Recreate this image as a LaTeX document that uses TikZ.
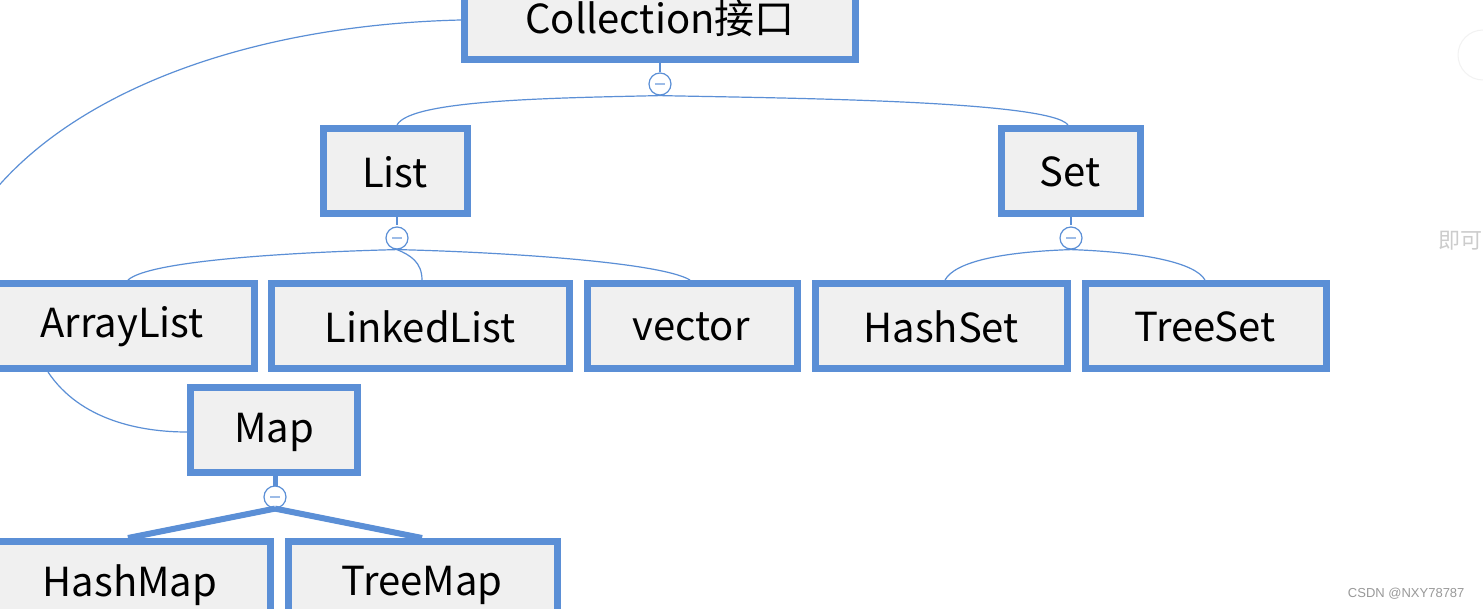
\documentclass[tikz,border=0pt]{standalone}
\usepackage{fontspec}
\setmainfont{Noto Sans CJK SC}
\newfontfamily\wm{Liberation Sans}
\definecolor{bd}{HTML}{5B8FD6}
\definecolor{bx}{HTML}{F0F0F0}
\begin{document}
\begin{tikzpicture}[x=1pt,y=-1pt,
  box/.style={draw=bd,line width=7pt,fill=bx,inner sep=0pt},
  lbl/.style={font=\fontsize{40}{40}\selectfont},
  tog/.style={circle,draw=bd,line width=1.2pt,fill=white,minimum size=22pt,inner sep=0pt},
  conn/.style={draw=bd,line width=1.2pt}]
\useasboundingbox (0,0) rectangle (1483,609);
\fill[white] (0,0) rectangle (1483,609);
\begin{scope}
\clip (0,0) rectangle (1483,609);
% boxes
\draw[box] (464.5,-20) rectangle (855.5,59.5); \node[lbl] (coll) at (660,18) {Collection接口};
\draw[box] (323.5,128.5) rectangle (467.5,213.5); \node[lbl] (list) at (395,172) {List};
\draw[box] (1001.5,128.5) rectangle (1140.5,213.5); \node[lbl] (set) at (1070,172) {Set};
\draw[box] (-10,283.5) rectangle (254.5,368.5); \node[lbl] (al) at (122,327) {ArrayList};
\draw[box] (271.5,283.5) rectangle (569.5,368.5); \node[lbl] (ll) at (420,327) {LinkedList};
\draw[box] (587.5,283.5) rectangle (797.5,368.5); \node[lbl] (vec) at (691,327) {vector};
\draw[box] (815.5,283.5) rectangle (1067.5,368.5); \node[lbl] (hs) at (941,327) {HashSet};
\draw[box] (1085.5,283.5) rectangle (1326.5,368.5); \node[lbl] (ts) at (1205,327) {TreeSet};
\draw[box] (190.5,387.5) rectangle (357.5,472.5); \node[lbl] (map) at (274,432) {Map};
\draw[box] (-10,541.5) rectangle (270.5,640); \node[lbl] (hm) at (130,585) {HashMap};
\draw[box] (288.5,541.5) rectangle (557.5,640); \node[lbl] (tm) at (422,585) {TreeMap};
% connectors
\coordinate (cl) at (461,20); \coordinate (off) at (-5,190);
\draw[conn] (cl) .. controls (250,25) and (80,90) .. (off);
\coordinate (c1) at (660,63); \coordinate (l1) at (397,225);
\coordinate (s1) at (1071,225); \coordinate (m1) at (275,476);
\draw[conn] (c1) -- (660,72); \draw[conn] (397,217) -- (l1); \draw[conn] (s1) -- (1071,217);
\draw[bd,line width=5pt] (m1) -- (275,486);
\node[tog] (t1) at (660,84) {}; \node[tog] (t2) at (397,238) {};
\node[tog] (t3) at (1071,238) {}; \node[tog] (t4) at (275,497) {};
\foreach \t in {t1,t2,t3,t4} \draw[bd!60,line width=1.5pt] ([xshift=-5pt]\t.center) -- ([xshift=5pt]\t.center);
\coordinate (lt) at (397,125); \coordinate (st) at (1068,125);
\draw[conn] (t1.south) .. controls (550,98) and (410,100) .. (lt);
\draw[conn] (t1.south) .. controls (770,98) and (1050,100) .. (st);
\coordinate (at) at (128,280); \coordinate (lkt) at (422,280); \coordinate (vt) at (690,280);
\draw[conn] (t2.south) .. controls (300,252) and (150,260) .. (at);
\draw[conn] (t2.south) .. controls (410,255) and (422,262) .. (lkt);
\draw[conn] (t2.south) .. controls (500,252) and (660,262) .. (vt);
\coordinate (hst) at (945,280); \coordinate (tst) at (1205,280);
\draw[conn] (t3.south) .. controls (1000,252) and (955,262) .. (hst);
\draw[conn] (t3.south) .. controls (1140,252) and (1195,262) .. (tst);
\coordinate (ab) at (48,372); \coordinate (ml) at (187,432);
\draw[conn] (ab) .. controls (80,420) and (140,432) .. (ml);
\coordinate (hmt) at (128,538); \coordinate (tmt) at (422,538);
\draw[bd,line width=6pt] (t4.south) -- (hmt);
\draw[bd,line width=6pt] (t4.south) -- (tmt);
% faint right elements
\draw[gray!10,line width=1pt] (1483,80) arc (90:270:25);
\node[text=gray!40,font=\fontsize{22}{22}\selectfont,anchor=west] (jk) at (1435,241) {即可};
\node[text=gray!80,font=\wm\fontsize{13}{13}\selectfont,anchor=east] (wmk) at (1468,594) {CSDN @NXY78787};
\end{scope}
\end{tikzpicture}
\end{document}
